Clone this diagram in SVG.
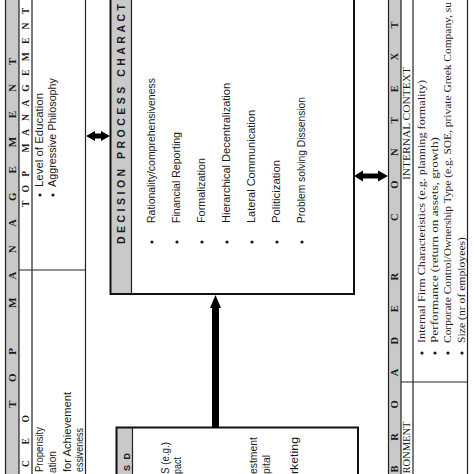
<svg xmlns="http://www.w3.org/2000/svg" width="474" height="474" viewBox="0 0 474 474">
<style>
.ln{stroke:#222;stroke-width:1.2;fill:none}
.bx{stroke:#111;stroke-width:2;fill:none}
.band{fill:#c9c9c9}
.hd{font-family:"Liberation Serif",serif;font-weight:bold;fill:#1a1a1a}
.hs{font-family:"Liberation Sans",sans-serif;font-weight:bold;fill:#1a1a1a}
.tx{font-family:"Liberation Sans",sans-serif;font-size:10px;fill:#1a1a1a}
.ts{font-family:"Liberation Serif",serif;font-size:10px;fill:#1a1a1a}
.bul{fill:#1a1a1a}
.arr{fill:#000}
</style>
<rect width="474" height="474" fill="#fff"/>

<g id="ceo-top-management">
  <rect class="band" x="5.5" y="0" width="13.5" height="474"/>
  <line class="ln" x1="5.5" y1="0" x2="5.5" y2="474"/>
  <line class="ln" x1="19" y1="0" x2="19" y2="474"/>
  <line class="ln" x1="32" y1="0" x2="32" y2="474"/>
  <line class="ln" x1="85.5" y1="0" x2="85.5" y2="474"/>
  <line class="ln" x1="19" y1="270" x2="85.5" y2="270"/>
  <text class="hd" font-size="11" xml:space="preserve" transform="translate(16,408) rotate(-90)" textLength="350" lengthAdjust="spacing">T O P   M A N A G E M E N T</text>
  <text class="hd" font-size="9.5" transform="translate(29,467) rotate(-90)" textLength="52" lengthAdjust="spacing">C E O</text>
  <text class="hd" font-size="9.5" xml:space="preserve" transform="translate(29,207) rotate(-90)" textLength="199" lengthAdjust="spacing">T O P   M A N A G E M E N T</text>
  <circle class="bul" cx="40" cy="195" r="1.6"/>
  <circle class="bul" cx="53" cy="195" r="1.6"/>
  <text class="tx" transform="translate(42.5,187) rotate(-90)" textLength="94" lengthAdjust="spacingAndGlyphs">Level of Education</text>
  <text class="tx" transform="translate(55.5,187) rotate(-90)" textLength="109" lengthAdjust="spacingAndGlyphs">Aggressive Philosophy</text>
  <text class="tx" transform="translate(42.5,472) rotate(-90)" textLength="45" lengthAdjust="spacingAndGlyphs">Propensity</text>
  <text class="tx" transform="translate(55.5,473) rotate(-90)" textLength="22" lengthAdjust="spacingAndGlyphs">ation</text>
  <text class="tx" transform="translate(70.5,472) rotate(-90)" textLength="80" lengthAdjust="spacingAndGlyphs">for Achievement</text>
  <text class="tx" transform="translate(82.5,472) rotate(-90)" textLength="44" lengthAdjust="spacingAndGlyphs">essiveness</text>
</g>

<g id="decision-process">
  <rect class="band" x="110.5" y="-2" width="21" height="296"/>
  <path class="bx" d="M110.5,-2 V294 H354 V-2"/>
  <line class="ln" x1="131.5" y1="-2" x2="131.5" y2="293"/>
  <text class="hs" font-size="10.5" transform="translate(125,244) rotate(-90)" textLength="240" lengthAdjust="spacing">DECISION PROCESS CHARACT</text>
  <circle class="bul" cx="152" cy="242" r="1.6"/>
  <circle class="bul" cx="177" cy="242" r="1.6"/>
  <circle class="bul" cx="202" cy="242" r="1.6"/>
  <circle class="bul" cx="227" cy="242" r="1.6"/>
  <circle class="bul" cx="252" cy="242" r="1.6"/>
  <circle class="bul" cx="277" cy="242" r="1.6"/>
  <circle class="bul" cx="302" cy="242" r="1.6"/>
  <text class="tx" transform="translate(154.5,223) rotate(-90)" textLength="145" lengthAdjust="spacingAndGlyphs">Rationality/comprehensiveness</text>
  <text class="tx" transform="translate(179.5,223) rotate(-90)" textLength="91" lengthAdjust="spacingAndGlyphs">Financial Reporting</text>
  <text class="tx" transform="translate(204.5,223) rotate(-90)" textLength="65" lengthAdjust="spacingAndGlyphs">Formalization</text>
  <text class="tx" transform="translate(229.5,223) rotate(-90)" textLength="140" lengthAdjust="spacingAndGlyphs">Hierarchical Decentralization</text>
  <text class="tx" transform="translate(254.5,223) rotate(-90)" textLength="113" lengthAdjust="spacingAndGlyphs">Lateral Communication</text>
  <text class="tx" transform="translate(279.5,223) rotate(-90)" textLength="63" lengthAdjust="spacingAndGlyphs">Politicization</text>
  <text class="tx" transform="translate(304.5,223) rotate(-90)" textLength="126" lengthAdjust="spacingAndGlyphs">Problem solving Dissension</text>
</g>

<g id="sd">
  <rect class="band" x="116.5" y="427.5" width="16" height="50"/>
  <path class="bx" d="M116.5,476 V427.5 H358 V476"/>
  <line class="ln" x1="132.5" y1="428" x2="132.5" y2="476"/>
  <text class="hs" font-size="9" transform="translate(130.3,471) rotate(-90)" textLength="18" lengthAdjust="spacing">S D</text>
  <text class="tx" transform="translate(168.5,474) rotate(-90)" textLength="32" lengthAdjust="spacingAndGlyphs">S (e.g.)</text>
  <text class="tx" transform="translate(180.5,474) rotate(-90)" textLength="17" lengthAdjust="spacingAndGlyphs">pact</text>
  <text class="tx" transform="translate(256.5,474) rotate(-90)" textLength="37" lengthAdjust="spacingAndGlyphs">estment</text>
  <text class="tx" transform="translate(269.5,474) rotate(-90)" textLength="19" lengthAdjust="spacingAndGlyphs">pital</text>
  <text class="tx" transform="translate(297.5,474) rotate(-90)" textLength="37" lengthAdjust="spacingAndGlyphs">rketing</text>
</g>

<g id="broader-context">
  <rect class="band" x="388.5" y="0" width="12.5" height="474"/>
  <line class="ln" x1="388.5" y1="0" x2="388.5" y2="474"/>
  <line class="ln" x1="401" y1="0" x2="401" y2="474"/>
  <line class="ln" x1="413" y1="0" x2="413" y2="474"/>
  <line class="ln" x1="467.5" y1="0" x2="467.5" y2="474"/>
  <line class="ln" x1="401" y1="382" x2="467.5" y2="382"/>
  <text class="hd" font-size="10.5" xml:space="preserve" transform="translate(398.3,472.5) rotate(-90)" textLength="451" lengthAdjust="spacing">B R O A D E R   C O N T E X T</text>
  <text class="ts" font-size="9.5" transform="translate(410.2,180) rotate(-90)" textLength="113" lengthAdjust="spacingAndGlyphs">INTERNAL CONTEXT</text>
  <text class="ts" font-size="9.5" transform="translate(410.2,473.5) rotate(-90)" textLength="52" lengthAdjust="spacingAndGlyphs">RONMENT</text>
  <circle class="bul" cx="422" cy="353" r="1.6"/>
  <circle class="bul" cx="435" cy="353" r="1.6"/>
  <circle class="bul" cx="448" cy="353" r="1.6"/>
  <circle class="bul" cx="462" cy="353" r="1.6"/>
  <text class="ts" transform="translate(424.5,343) rotate(-90)" textLength="263" lengthAdjust="spacingAndGlyphs">Internal Firm Characteristics (e.g. planning formality)</text>
  <text class="ts" transform="translate(437.5,343) rotate(-90)" textLength="206" lengthAdjust="spacingAndGlyphs">Performance (return on assets, growth)</text>
  <text class="ts" transform="translate(450.5,343) rotate(-90)" textLength="341" lengthAdjust="spacingAndGlyphs">Corporate Control/Ownership Type (e.g. SOE, private Greek Company, su</text>
  <text class="ts" transform="translate(464.5,343) rotate(-90)" textLength="106" lengthAdjust="spacingAndGlyphs">Size (nr of employees)</text>
</g>

<g id="connectors">
  <polygon class="arr" points="86,136 95,131 95,133.5 101,133.5 101,131 110,136 101,141 101,138.5 95,138.5 95,141"/>
  <polygon class="arr" points="354,176 363,170.5 363,173.5 378,173.5 378,170.5 388,176 378,181.5 378,178.5 363,178.5 363,181.5"/>
  <polygon class="arr" points="215.5,295 221,308 219,308 219,428 212,428 212,308 210,308"/>
</g>
</svg>
